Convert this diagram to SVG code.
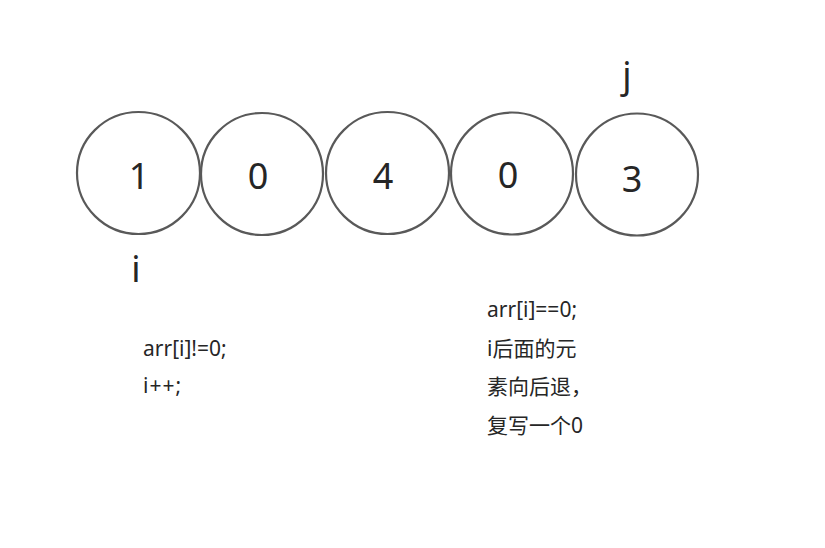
<svg xmlns="http://www.w3.org/2000/svg" width="825" height="548" viewBox="0 0 825 548">
<style>
.c{fill:#fff;stroke:#595959;stroke-width:2.2}
.n{font-family:"Noto Sans","Noto Sans CJK SC",sans-serif;font-size:36px;fill:#262626;text-anchor:middle}
.t{font-family:"Noto Sans","Noto Sans CJK SC",sans-serif;font-size:21px;fill:#262626}
</style>
<rect width="825" height="548" fill="#fff"/>
<g id="connectors"></g>
<g id="node1"><ellipse class="c" cx="138.5" cy="173" rx="61.5" ry="61"/><text class="n" x="139" y="189">1</text></g>
<g id="node2"><ellipse class="c" cx="262" cy="174" rx="61" ry="61"/><text class="n" x="258" y="189">0</text></g>
<g id="node3"><ellipse class="c" cx="387.5" cy="173" rx="61.5" ry="61"/><text class="n" x="383" y="189">4</text></g>
<g id="node4"><ellipse class="c" cx="512" cy="173.5" rx="61" ry="61"/><text class="n" x="508" y="188">0</text></g>
<g id="node5"><ellipse class="c" cx="637" cy="174.5" rx="61" ry="61"/><text class="n" x="632" y="192">3</text></g>
<g id="label-i"><text class="n" x="136" y="282">i</text></g>
<g id="label-j"><text class="n" x="627" y="88">j</text></g>
<g id="note-left">
<text class="t" x="143" y="356">arr[i]!=0;</text>
<text class="t" x="143" y="393" letter-spacing="1">i++;</text>
</g>
<g id="note-right">
<text class="t" x="487" y="317">arr[i]==0;</text>
<text class="t" x="487" y="356">i后面的元</text>
<text class="t" x="487" y="394">素向后退，</text>
<text class="t" x="487" y="433">复写一个0</text>
</g>
</svg>
